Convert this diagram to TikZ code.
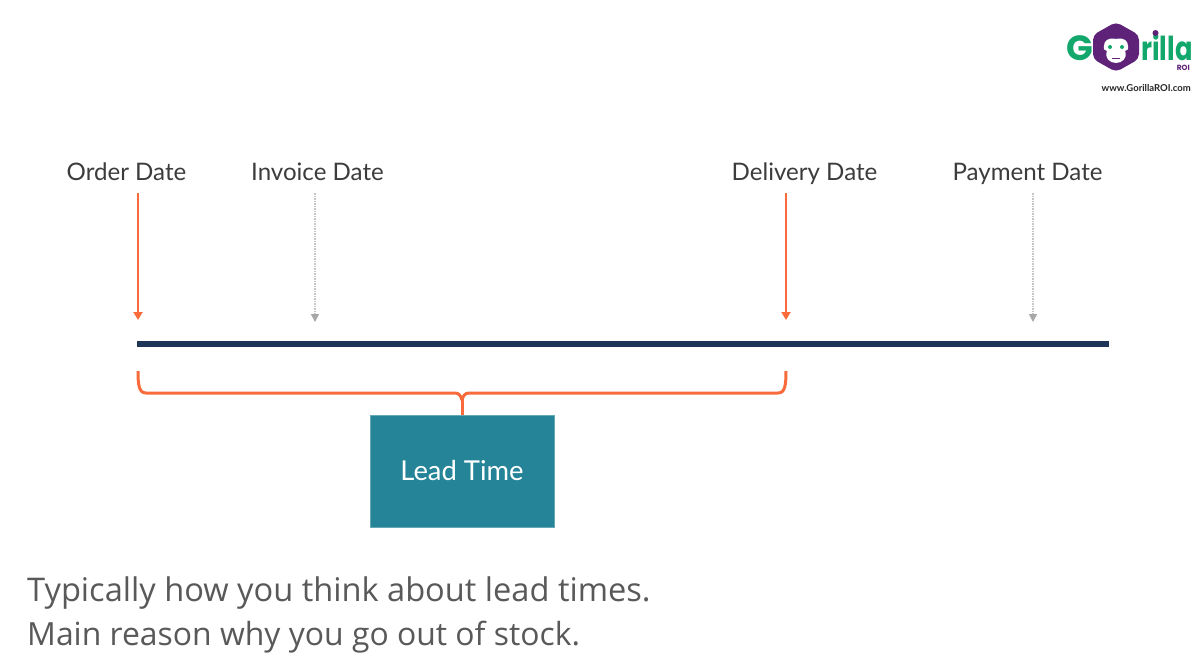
\documentclass[tikz,border=0pt]{standalone}
\usepackage{fontspec}
\usepackage{graphicx}
\setmainfont{Lato}
\newfontfamily\bodyfont{Open Sans}
\newfontfamily\logofont{Poppins}
\usetikzlibrary{arrows.meta}
\definecolor{orangeline}{HTML}{F96B3A}
\definecolor{navyline}{HTML}{1F3557}
\definecolor{greyline}{HTML}{C4C4C4}
\definecolor{greytip}{HTML}{A8A8A8}
\definecolor{tealbox}{HTML}{258497}
\definecolor{labelgrey}{HTML}{3C3C3C}
\definecolor{bodygrey}{HTML}{595959}
\definecolor{logogreen}{HTML}{12A86B}
\definecolor{logopurple}{HTML}{5E2279}
\tikzset{
  datelabel/.style={font=\fontsize{24.1}{27}\selectfont,text=labelgrey,inner sep=0pt,anchor=base},
  keyarrow/.style={draw=orangeline,line width=2.8pt,-{Triangle[length=8pt,width=9pt]}},
  minorarrow/.style={draw=greyline,line width=1.5pt,densely dotted,-{Triangle[length=8pt,width=8pt,color=greytip]}},
  bracketline/.style={draw=orangeline,line width=3pt,line join=round},
  bodytext/.style={text=bodygrey,inner sep=0pt,anchor=base west},
}
\begin{document}
\begin{tikzpicture}[x=1pt,y=-1pt]
\useasboundingbox (0,0) rectangle (1200,664);
\fill[white] (0,0) rectangle (1200,664);
% labels
\node[datelabel] (order) at (126.5,180) {Order Date};
\node[datelabel] (invoice) at (317.5,180) {Invoice Date};
\node[datelabel] (delivery) at (804.5,180) {Delivery Date};
\node[datelabel] (payment) at (1027.5,180) {Payment Date};
% timeline
\coordinate (lineL) at (137,344);
\coordinate (lineR) at (1109,344);
\draw[navyline,line width=6pt] (lineL) -- (lineR);
% arrows
\coordinate (a1s) at (138,193); \coordinate (a1e) at (138,320);
\coordinate (a2s) at (315,193); \coordinate (a2e) at (315,322);
\coordinate (a3s) at (786,193); \coordinate (a3e) at (786,320);
\coordinate (a4s) at (1033,193); \coordinate (a4e) at (1033,322);
\draw[keyarrow] (a1s) -- (a1e);
\draw[minorarrow] (a2s) -- (a2e);
\draw[keyarrow] (a3s) -- (a3e);
\draw[minorarrow] (a4s) -- (a4e);
% box
\node[fill=tealbox,draw=tealbox!70!white,line width=.6pt,minimum width=184pt,minimum height=112pt,inner sep=0pt,
      text=white,font=\fontsize{27.4}{30}\selectfont] (lead) at (462,471) {\raisebox{2pt}{Lead Time}};
% brace
\draw[bracketline] (138,371) .. controls (138,385) and (139,393) .. (146,393)
  -- (455,393) .. controls (459,393) and (461,396) .. (462,400)
  .. controls (463,396) and (465,393) .. (469,393)
  -- (778,393) .. controls (785,393) and (786,385) .. (786,371);
\draw[bracketline] (462,398) -- (lead.north);
% bottom text
\node[bodytext,font=\bodyfont\fontsize{32.6}{44}\selectfont] (t1) at (27,601) {Typically how you think about lead times.};
\node[bodytext,font=\bodyfont\fontsize{31.9}{44}\selectfont] (t2) at (27,645) {Main reason why you go out of stock.};
% logo
\fill[logopurple,rounded corners=5pt] (1116,22) -- (1139,35) -- (1139,59) -- (1116,72) -- (1093,59) -- (1093,35) -- cycle;
\fill[white] (1116,39) .. controls (1124,37) and (1128,41) .. (1128,46)
  .. controls (1129,49) and (1127,51) .. (1125,51)
  .. controls (1128,58) and (1122,63) .. (1116,63)
  .. controls (1110,63) and (1104,58) .. (1107,51)
  .. controls (1105,51) and (1103,49) .. (1104,46)
  .. controls (1104,41) and (1108,37) .. (1116,39) -- cycle;
\fill[logogreen] (1110,47) circle (2pt) (1122,47) circle (2pt);
\draw[logopurple,line width=1pt] (1112,58) -- (1120,58);
\node[inner sep=0pt,anchor=base west,text=logogreen,font=\logofont\bfseries\fontsize{35}{35}\selectfont] (logoG) at (1066,60) {G};
\node[inner sep=0pt,anchor=base west,text=logogreen,font=\logofont\bfseries\fontsize{33}{33}\selectfont] (logoR) at (1141,60) {\scalebox{0.78}[1]{rilla}};
\fill[logopurple] (1155.5,33) circle (3pt);
\node[inner sep=0pt,anchor=base east,text=logopurple,font=\logofont\bfseries\fontsize{7.5}{8}\selectfont] (logoROI) at (1190,70) {ROI};
\node[inner sep=0pt,anchor=base east,text=black!85,font=\bfseries\fontsize{9.5}{10}\selectfont] (logoURL) at (1191,91) {www.GorillaROI.com};
\end{tikzpicture}
\end{document}
